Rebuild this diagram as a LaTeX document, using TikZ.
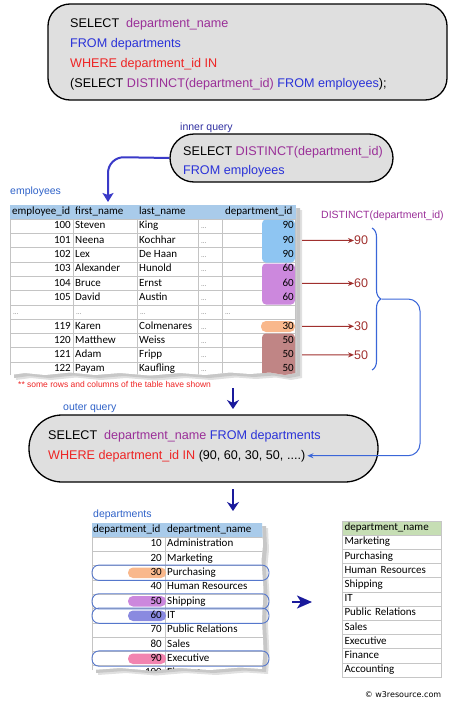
\documentclass[tikz,border=0pt]{standalone}
\usepackage{fontspec}
\setmainfont{Liberation Sans}
\newfontfamily\tabfont{Carlito}
\newfontfamily\copyfont{DejaVu Sans}
\usetikzlibrary{arrows.meta, decorations.pathreplacing}

\definecolor{boxgray}{HTML}{DFDFDF}
\definecolor{sqlpurple}{HTML}{9A2F98}
\definecolor{sqlblue}{HTML}{2A32D8}
\definecolor{sqlred}{HTML}{EE2424}
\definecolor{labelblue}{HTML}{2F62C8}
\definecolor{headblue}{HTML}{A9CBEA}
\definecolor{headgreen}{HTML}{C6DEB4}
\definecolor{gridgray}{HTML}{C4C4C4}
\definecolor{cellblue}{HTML}{8EC5F2}
\definecolor{cellpurple}{HTML}{CC88DD}
\definecolor{cellorange}{HTML}{F9B88C}
\definecolor{cellbrown}{HTML}{C08585}
\definecolor{cellviolet}{HTML}{8A8AE0}
\definecolor{cellpink}{HTML}{F284B0}
\definecolor{rowblue}{HTML}{5577CC}
\definecolor{darkred}{HTML}{A0302E}
\definecolor{navy}{HTML}{1A1A9C}
\definecolor{arrowblue}{HTML}{3A3AC8}
\definecolor{braceblue}{HTML}{3A66D8}

\newcommand{\emptorn}{(10,205) -- (296,205) -- (296,373) -- (285,375) -- (270,372.5) -- (250,374) -- (230,372.5) -- (205,375) -- (180,373) -- (150,375.5) -- (120,373) -- (95,375) -- (70,372.5) -- (45,375) -- (25,373) -- (10,375) -- cycle}
\newcommand{\deptorn}{(92,523) -- (262,523) -- (263,545) -- (261.5,560) -- (263.5,590) -- (262,620) -- (263.5,650) -- (262,669) -- (240,667.5) -- (210,670) -- (180,668) -- (150,670.5) -- (120,668) -- (92,670) -- cycle}

\begin{document}
\begin{tikzpicture}[x=1pt, y=-1pt]
		\tikzstyle{sql} = [inner sep=0pt, anchor=base west, font=\fontsize{12.6}{15}\selectfont]
		\tikzstyle{qbox} = [rectangle, draw=black, line width=1.3pt, fill=boxgray]
		\tikzstyle{tag} = [inner sep=0pt, anchor=base west, text=labelblue, font=\fontsize{10.5}{12}\selectfont]
		\tikzstyle{cell} = [inner sep=0pt, text height=7.5pt, text depth=2pt, font={\tabfont\fontsize{11}{13}\selectfont}]
		\tikzstyle{dots} = [inner sep=0pt, text height=7.5pt, text depth=2pt, text=gray, font={\tabfont\fontsize{7}{8}\selectfont}]
		\tikzstyle{num} = [inner sep=0pt, anchor=west, text=darkred, font=\fontsize{12.5}{14}\selectfont]
		\tikzstyle{grid} = [draw=gridgray, line width=0.6pt]
		\tikzstyle{rescell} = [rectangle, draw=gray!45, minimum width=99pt, minimum height=14.2pt, text width=94pt, align=left, inner xsep=2.5pt, inner ysep=0pt, text height=7.5pt, text depth=2pt, font={\tabfont\fontsize{11}{13}\selectfont}]
		\tikzstyle{redarrow} = [line width=1pt, draw=darkred, -{Stealth[length=6pt,width=5pt]}]
		\tikzstyle{bluearrow} = [line width=1pt, draw=braceblue, -{Stealth[length=6pt,width=5pt]}]
		\tikzstyle{innerarrow} = [line width=2pt, draw=arrowblue, -{Stealth[length=9pt,width=11pt,inset=2pt]}]
		\tikzstyle{navyarrow} = [line width=2.5pt, draw=navy, -{Stealth[length=9pt,width=12pt,inset=3pt]}]
		
		\useasboundingbox (0,0) rectangle (474,707);
		
		% main query
		\node (mainq) [qbox, minimum width=399pt, minimum height=96pt, rounded corners=22pt] at (247.5,52) {};
		\node (m1) [sql] at (70,27) {SELECT\ \ \textcolor{sqlpurple}{department\_name}};
		\node (m2) [sql] at (70,47) {\textcolor{sqlblue}{FROM departments}};
		\node (m3) [sql] at (70,67) {\textcolor{sqlred}{WHERE department\_id IN}};
		\node (m4) [sql] at (70,87) {(SELECT \textcolor{sqlpurple}{DISTINCT(department\_id)} \textcolor{sqlblue}{FROM employees});};
		
		% inner query
		\node (innertag) [tag, text=arrowblue!80!black] at (180,130) {inner query};
		\node (innerq) [qbox, minimum width=223pt, minimum height=48pt, rounded corners=24pt] at (281.5,158) {};
		\node (i1) [sql] at (183,155) {SELECT \textcolor{sqlpurple}{DISTINCT(department\_id)}};
		\node (i2) [sql] at (183,174) {\textcolor{sqlblue}{FROM employees}};
		\coordinate (empin) at (108,202);
		\draw[innerarrow, rounded corners=16pt] (innerq.west) -- (108,157) -- (empin);
		
		% employees table
		\node (emptag) [tag] at (10,194) {employees};
		\fill[black!12, xshift=6pt, yshift=-5pt] \emptorn;
		\fill[black!22, xshift=4pt, yshift=-3pt] \emptorn;
		\fill[white] \emptorn;
		\begin{scope}
		\clip \emptorn;
		\fill[headblue] (10,205) rectangle (296,219);
		\foreach \k in {0,...,11} \draw[grid] (10,{219+\k*14.3}) -- (296,{219+\k*14.3});
		\foreach \xx in {10,73,137,198,222,295.5} \draw[grid] (\xx,219) -- (\xx,380);
		\fill[cellblue, rounded corners=4pt] (262,219.5) rectangle (295,262.5);
		\fill[cellpurple, rounded corners=4pt] (262,263.5) rectangle (295,304.5);
		\fill[cellorange, rounded corners=5pt] (261,321) rectangle (295,332);
		\fill[cellbrown, rounded corners=4pt] (262,333.5) rectangle (295,382);
		\node (h1) [cell, anchor=west] at (12,212) {employee\_id};
		\node (h2) [cell, anchor=west] at (75,212) {first\_name};
		\node (h3) [cell, anchor=west] at (139,212) {last\_name};
		\node (h4) [cell, anchor=west] at (225,212) {department\_id};
		\foreach \r/\eid/\fn/\ln/\dd in {1/100/Steven/King/90, 2/101/Neena/Kochhar/90, 3/102/Lex/De Haan/90, 4/103/Alexander/Hunold/60, 5/104/Bruce/Ernst/60, 6/105/David/Austin/60, 8/119/Karen/Colmenares/30, 9/120/Matthew/Weiss/50, 10/121/Adam/Fripp/50, 11/122/Payam/Kaufling/50}{
			\pgfmathsetmacro{\yy}{219+(\r-0.5)*14.3}
			\node (eid\r) [cell, anchor=east] at (71,\yy) {\eid};
			\node (efn\r) [cell, anchor=west] at (75,\yy) {\fn};
			\node (eln\r) [cell, anchor=west] at (139,\yy) {\ln};
			\node (edot\r) [dots, anchor=west] at (201,\yy) {...};
			\node (edid\r) [cell, anchor=east] at (294,\yy) {\dd};
		}
		\node (eid7) [dots, anchor=west] at (13,311.8) {...};
		\node (efn7) [dots, anchor=west] at (76,311.8) {...};
		\node (eln7) [dots, anchor=west] at (140,311.8) {...};
		\node (edot7) [dots, anchor=west] at (201,311.8) {...};
		\node (edid7) [dots, anchor=west] at (225,311.8) {...};
		\end{scope}
		\node (note) [inner sep=0pt, anchor=base west, text=sqlred, font=\fontsize{8.5}{10}\selectfont] at (18,387) {** some rows and columns of the table have shown};
		
		% distinct values
		\node (disttag) [inner sep=0pt, anchor=base west, text=sqlpurple, font=\fontsize{10.5}{12}\selectfont] at (321,218) {DISTINCT(department\_id)};
		\node (n90) [num] at (354,240.5) {90};
		\node (n60) [num] at (354,283.4) {60};
		\node (n30) [num] at (354,326.3) {30};
		\node (n50) [num] at (354,354.9) {50};
		\draw[redarrow] ([xshift=8pt]edid2.east) -- (n90.west);
		\draw[redarrow] ([xshift=8pt]edid5.east) -- (n60.west);
		\draw[redarrow] ([xshift=8pt]edid8.east) -- (n30.west);
		\draw[redarrow] ([xshift=8pt]edid10.east) -- (n50.west);
		\coordinate (bracetop) at (372,228);
		\coordinate (bracebot) at (372,370);
		\coordinate (bracetip) at (382,299);
		\draw[braceblue, line width=1.1pt, decorate, decoration={brace, amplitude=9pt}] (bracetop) -- (bracebot);
		
		% outer query
		\coordinate (d1s) at (233,388);
		\coordinate (d1e) at (233,409);
		\draw[navyarrow] (d1s) -- (d1e);
		\node (outertag) [tag] at (63,410) {outer query};
		\node (outerq) [qbox, minimum width=349pt, minimum height=67pt, rounded corners=33pt] at (203.5,448.5) {};
		\node (o1) [sql] at (48,439) {SELECT\ \ \textcolor{sqlpurple}{department\_name} \textcolor{sqlblue}{FROM departments}};
		\node (o2) [sql] at (48,459) {\textcolor{sqlred}{WHERE department\_id IN} (90, 60, 30, 50, ....)};
		\draw[bluearrow, rounded corners=12pt, shorten >=2pt] (bracetip) -- (420,299) |- (o2.east);
		\coordinate (d2s) at (233,489);
		\coordinate (d2e) at (233,511);
		\draw[navyarrow] (d2s) -- (d2e);
		
		% departments table
		\node (depttag) [tag] at (93,517) {departments};
		\fill[black!12, xshift=6pt, yshift=-5pt] \deptorn;
		\fill[black!22, xshift=4pt, yshift=-3pt] \deptorn;
		\fill[white] \deptorn;
		\begin{scope}
		\clip \deptorn;
		\fill[headblue] (92,523) rectangle (264,537);
		\foreach \k in {0,...,10} \draw[grid] (92,{537+\k*14.3}) -- (264,{537+\k*14.3});
		\foreach \xx in {92,165} \draw[grid] (\xx,537) -- (\xx,680);
		\fill[cellorange, rounded corners=5pt] (128,567.5) rectangle (166,578);
		\fill[cellpurple, rounded corners=5pt] (128,596) rectangle (166,606.5);
		\fill[cellviolet, rounded corners=5pt] (128,610.5) rectangle (166,621);
		\fill[cellpink, rounded corners=5pt] (128,653.5) rectangle (166,664);
		\node (dh1) [cell, anchor=west] at (93,530) {department\_id};
		\node (dh2) [cell, anchor=west] at (167,530) {department\_name};
		\foreach \r/\did/\dnm in {1/10/Administration, 2/20/Marketing, 3/30/Purchasing, 4/40/Human Resources, 5/50/Shipping, 6/60/IT, 7/70/Public Relations, 8/80/Sales, 9/90/Executive, 10/100/Finance}{
			\pgfmathsetmacro{\yy}{537+(\r-0.5)*14.3}
			\node (did\r) [cell, anchor=east] at (162,\yy) {\did};
			\node (dnm\r) [cell, anchor=west] at (167,\yy) {\dnm};
		}
		\end{scope}
		\foreach \r in {3,5,6,9} \draw[rowblue, line width=0.9pt, rounded corners=7pt] (92,{537+(\r-1)*14.3-0.5}) rectangle (269,{537+\r*14.3+0.5});
		
		% result
		\coordinate (ras) at (292,602);
		\coordinate (rae) at (312,602);
		\draw[navyarrow, line width=2pt, -{Stealth[length=15pt,width=13pt,inset=4pt]}] (ras) -- (rae);
		\node (reshead) [rescell, fill=headgreen] at (391.5,528) {department\_name};
		\foreach \r/\nm in {1/Marketing, 2/Purchasing, 3/Human Resources, 4/Shipping, 5/IT, 6/Public Relations, 7/Sales, 8/Executive, 9/Finance, 10/Accounting}{
			\pgfmathsetmacro{\yy}{535+(\r-0.5)*14.2}
			\node (res\r) [rescell] at (391.5,\yy) {\nm};
		}
		\node (copy) [inner sep=0pt, font={\copyfont\fontsize{8}{9}\selectfont}] at (403,695) {© w3resource.com};
\end{tikzpicture}
\end{document}
